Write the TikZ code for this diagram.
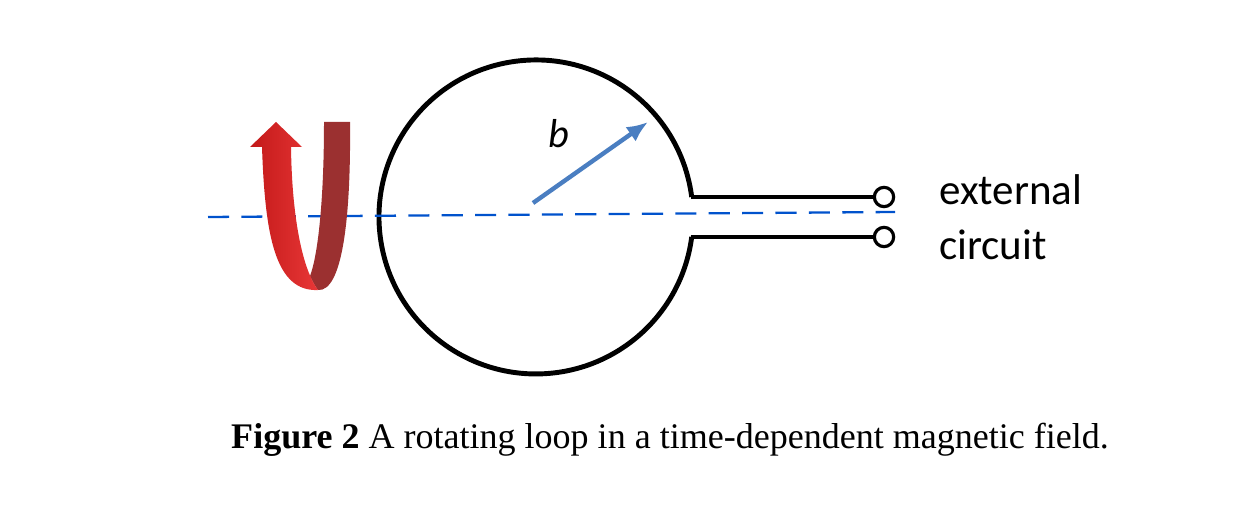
\documentclass[tikz,border=0pt]{standalone}
\usepackage{fontspec}
\usetikzlibrary{arrows.meta}
\setmainfont{Liberation Serif}
\newfontfamily\calfont{Carlito}
\begin{document}
\begin{tikzpicture}[x=0.02cm,y=-0.02cm,
  wire/.style={line width=2.8pt,black},
  term/.style={circle,draw,line width=1.8pt,minimum size=11pt,inner sep=0pt,fill=white}]
\useasboundingbox (0,0) rectangle (1236,506);
% loop
\draw[wire] (691.7,197) arc[start angle=-7.3,end angle=-352.7,radius=157];
\node[term] (t1) at (884,197) {};
\node[term] (t2) at (884,237) {};
\coordinate (a1) at (690.5,197);
\coordinate (a2) at (690.5,237);
\draw[wire] (a1) -- (t1.west);
\draw[wire] (a2) -- (t2.west);
% axis
\coordinate (d1) at (208,217);
\coordinate (d2) at (895,212);
\draw[blue!60!cyan!80!black,line width=1.3pt,dash pattern=on 12pt off 7pt] (d1) -- (d2);
% radius arrow
\coordinate (c) at (533,203);
\coordinate (r) at (648,122);
\draw[-{Latex[length=12pt,width=10pt]},line width=2.5pt,color={rgb,255:red,74;green,126;blue,193}] (c) -- (r);
\node[font=\calfont\itshape,scale=2.3] (b) at (559,134) {b};
% red rotation arrow
\fill[color={rgb,255:red,155;green,48;blue,48}] (324,122) -- (350,122) .. controls (351,220) and (342,292) .. (318,290) .. controls (314,285) and (312,280) .. (310,276) .. controls (318,255) and (324,200) .. (324,122) -- cycle;
\shade[left color={rgb,255:red,195;green,25;blue,25},right color={rgb,255:red,232;green,55;blue,55}] (262,147) .. controls (265,235) and (275,292) .. (318,290) .. controls (303,270) and (292,220) .. (291,147) -- (302,147) -- (276,122) -- (250,147) -- cycle;
% texts
\node[font=\calfont,scale=2.45,anchor=west] (ext) at (924,190) {external};
\node[font=\calfont,scale=2.45,anchor=west] (cir) at (924,245) {circuit};
\node[scale=2.05] (cap) at (670,440) {\textbf{Figure 2} A rotating loop in a time-dependent magnetic field.};
\end{tikzpicture}
\end{document}
